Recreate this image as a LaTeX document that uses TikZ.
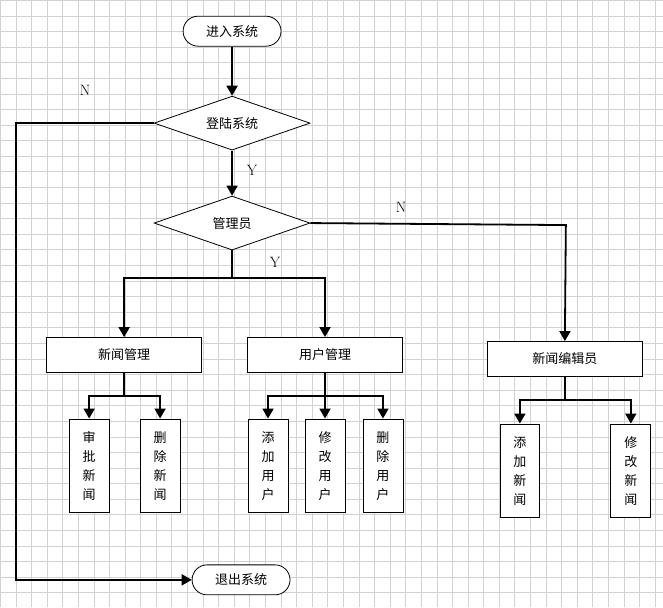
\documentclass[tikz,border=0pt]{standalone}
\usepackage{fontspec}
\newfontfamily\cjk{Noto Sans CJK SC}
\usetikzlibrary{shapes.geometric,arrows.meta}
\begin{document}
\begin{tikzpicture}[x=1pt,y=-1pt,
  box/.style={draw,thick,fill=white,minimum width=155pt,minimum height=35pt,font=\cjk\fontsize{13}{15}\selectfont},
  vbox/.style={draw,thick,fill=white,minimum width=40pt,minimum height=94pt,align=center,font=\cjk\fontsize{13}{19}\selectfont},
  term/.style={draw,thick,fill=white,rounded corners=15pt,minimum width=98pt,minimum height=30pt,font=\cjk\fontsize{13}{15}\selectfont},
  dia/.style={draw,thick,fill=white,diamond,aspect=2.9,minimum width=156pt,minimum height=54pt,inner sep=0pt,font=\cjk\fontsize{13}{15}\selectfont},
  ln/.style={line width=1.8pt},
  ar/.style={line width=1.8pt,-{Triangle[length=10pt,width=11pt]}},
  lab/.style={font=\fontsize{15}{17}\selectfont}]
\fill[white] (0,0) rectangle (663,607);
\draw[gray!35,step=15.6pt] (0,0) grid (663,607);
\useasboundingbox (0,0) rectangle (663,607);
\node[term] (start) at (232,31) {进入系统};
\node[dia] (login) at (232,123) {登陆系统};
\node[dia] (admin) at (232,223) {管理员};
\node[box] (news) at (124,355) {新闻管理};
\node[box] (user) at (325,355) {用户管理};
\node[box] (editor) at (565,359) {新闻编辑员};
\node[vbox] (a1) at (89,466) {审\\批\\新\\闻};
\node[vbox] (a2) at (160,466) {删\\除\\新\\闻};
\node[vbox] (u1) at (268,466) {添\\加\\用\\户};
\node[vbox] (u2) at (325,466) {修\\改\\用\\户};
\node[vbox] (u3) at (383,466) {删\\除\\用\\户};
\node[vbox] (e1) at (520,471) {添\\加\\新\\闻};
\node[vbox] (e2) at (631,471) {修\\改\\新\\闻};
\node[term] (exit) at (241,580) {退出系统};
\coordinate (b1) at (232,278);
\coordinate (b2) at (124,396);
\coordinate (b3) at (325,396);
\coordinate (b4) at (565,400);
\draw[ar] (start) -- (login);
\draw[ar] (login) -- (admin);
\draw[ar] (login.west) -- (16,123) -- (16,580) -- (exit.west);
\draw[ar] (admin.east) -- (566,225) -- (editor.north);
\draw[ln] (admin.south) -- (b1);
\draw[ar] (b1) -| (news.north);
\draw[ar] (b1) -| (user.north);
\draw[ln] (news.south) -- (b2);
\draw[ar] (b2) -| (a1.north);
\draw[ar] (b2) -| (a2.north);
\draw[ar] (user.south) -- (u2.north);
\draw[ar] (b3) -| (u1.north);
\draw[ar] (b3) -| (u3.north);
\draw[ln] (editor.south) -- (b4);
\draw[ar] (b4) -| (e1.north);
\draw[ar] (b4) -| (e2.north);
\node[lab] (n1) at (85,90) {N};
\node[lab] (y1) at (252,170) {Y};
\node[lab] (n2) at (401,207) {N};
\node[lab] (y2) at (275,262) {Y};
\end{tikzpicture}
\end{document}
